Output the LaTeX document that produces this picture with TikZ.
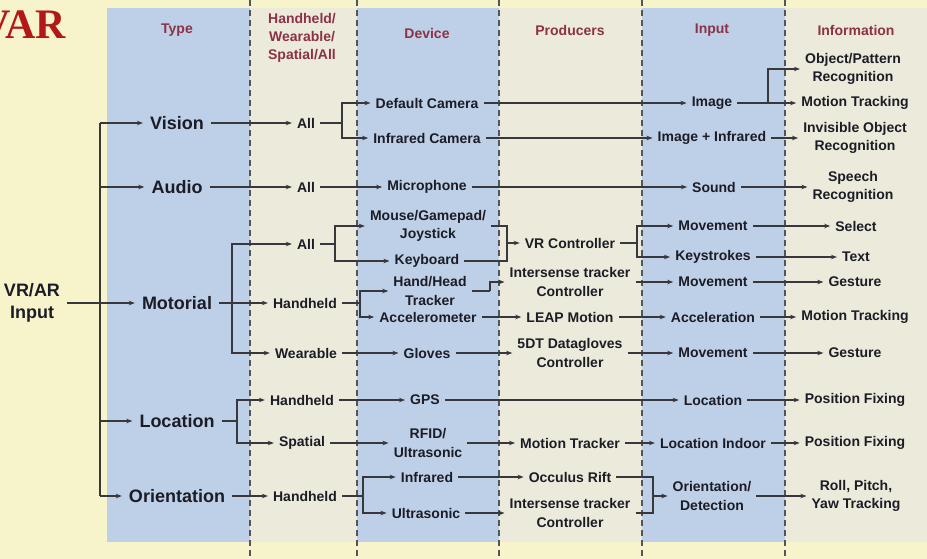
\documentclass[tikz,border=0pt]{standalone}
\usepackage{fontspec}
\setmainfont{Liberation Sans}
\newfontfamily\titlefont{Liberation Serif}
\usetikzlibrary{arrows.meta}
\definecolor{bgyel}{RGB}{247,243,203}
\definecolor{panel}{RGB}{236,234,219}
\definecolor{colblue}{RGB}{190,208,231}
\definecolor{hdrred}{RGB}{140,50,70}
\definecolor{titlered}{RGB}{178,24,24}
\definecolor{ink}{RGB}{28,28,38}
\definecolor{linec}{RGB}{55,55,60}
\begin{document}
\begin{tikzpicture}[x=1pt,y=-1pt,
  lbl/.style={font=\fontsize{14}{18.5}\selectfont\bfseries, text=ink, align=center, inner xsep=5pt, inner ysep=1pt},
  big/.style={font=\fontsize{18}{22}\selectfont\bfseries, text=ink, align=center, inner xsep=7pt, inner ysep=1pt},
  hdr/.style={font=\fontsize{14}{18}\selectfont\bfseries, text=hdrred, align=center},
  ln/.style={draw=linec, line width=1.3pt},
  arr/.style={ln, -{Stealth[length=6pt,width=4.5pt]}},
  sepline/.style={draw=linec!85, line width=1.6pt, dash pattern=on 6pt off 4pt}
]
\useasboundingbox (0,0) rectangle (927,559);
\fill[bgyel] (0,0) rectangle (927,559);
\fill[panel] (107,8) rectangle (927,542);
\fill[colblue] (107,8) rectangle (250,542);
\fill[colblue] (357,8) rectangle (499,542);
\fill[colblue] (642,8) rectangle (785,542);
\foreach \x in {250,357,499,642,785}
  \draw[sepline] (\x,0) -- (\x,559);

% title
\node[anchor=east, font=\titlefont\fontsize{42}{42}\selectfont\bfseries, text=titlered, inner sep=0] (title) at (66,25) {VAR};

% headers
\node[hdr] (hType) at (177,30) {Type};
\node[hdr] (hHand) at (302,38) {Handheld/\\Wearable/\\Spatial/All};
\node[hdr] (hDev) at (427,33) {Device};
\node[hdr] (hProd) at (570,30) {Producers};
\node[hdr] (hInp) at (712,30) {Input};
\node[hdr] (hInf) at (856,30) {Information};

% types
\node[big] (vrar) at (32,303) {VR/AR\\Input};
\node[big] (vis) at (177,123) {Vision};
\node[big] (aud) at (177,187) {Audio};
\node[big] (mot) at (177,303) {Motorial};
\node[big] (loc) at (177,421) {Location};
\node[big] (ori) at (177,496) {Orientation};

% handheld column
\node[lbl] (h1) at (306,123) {All};
\node[lbl] (h2) at (306,187) {All};
\node[lbl] (h3) at (306,244) {All};
\node[lbl] (h4) at (305,303) {Handheld};
\node[lbl] (h5) at (306,353) {Wearable};
\node[lbl] (h6) at (302,400) {Handheld};
\node[lbl] (h7) at (302,443) {Spatial};
\node[lbl] (h8) at (305,496) {Handheld};

% devices
\node[lbl] (d1) at (427,103) {Default Camera};
\node[lbl] (d2) at (427,138) {Infrared Camera};
\node[lbl] (d3) at (427,187) {Microphone};
\node[lbl] (d4) at (428,226) {Mouse/Gamepad/\\Joystick};
\node[lbl] (d5) at (427,261) {Keyboard};
\node[lbl] (d6) at (430,291) {Hand/Head\\Tracker};
\node[lbl] (d7) at (428,317) {Accelerometer};
\node[lbl] (d8) at (427,353) {Gloves};
\node[lbl] (d9) at (425,400) {GPS};
\node[lbl] (d10) at (428,443) {RFID/\\Ultrasonic};
\node[lbl] (d11) at (427,477) {Infrared};
\node[lbl] (d12) at (426,513) {Ultrasonic};

% producers
\node[lbl] (p1) at (570,243) {VR Controller};
\node[lbl] (p2) at (570,282) {Intersense tracker\\Controller};
\node[lbl] (p3) at (570,317) {LEAP Motion};
\node[lbl] (p4) at (570,353) {5DT Datagloves\\Controller};
\node[lbl] (p5) at (570,443) {Motion Tracker};
\node[lbl] (p6) at (570,477) {Occulus Rift};
\node[lbl] (p7) at (570,513) {Intersense tracker\\Controller};

% input
\node[lbl] (i1) at (712,103) {Image};
\node[lbl] (i2) at (712,138) {Image + Infrared};
\node[lbl] (i3) at (714,187) {Sound};
\node[lbl] (i4) at (713,226) {Movement};
\node[lbl] (i5) at (713,257) {Keystrokes};
\node[lbl] (i6) at (713,282) {Movement};
\node[lbl] (i7) at (713,317) {Acceleration};
\node[lbl] (i8) at (713,353) {Movement};
\node[lbl] (i9) at (713,400) {Location};
\node[lbl] (i10) at (713,443) {Location Indoor};
\node[lbl] (i11) at (712,496) {Orientation/\\Detection};

% information
\node[lbl] (f1) at (853,69) {Object/Pattern\\Recognition};
\node[lbl] (f2) at (855,103) {Motion Tracking};
\node[lbl] (f3) at (855,138) {Invisible Object\\Recognition};
\node[lbl] (f4) at (853,187) {Speech\\Recognition};
\node[lbl] (f5) at (856,226) {Select};
\node[lbl] (f6) at (856,257) {Text};
\node[lbl] (f7) at (855,282) {Gesture};
\node[lbl] (f8) at (855,317) {Motion Tracking};
\node[lbl] (f9) at (855,353) {Gesture};
\node[lbl] (f10) at (855,400) {Position Fixing};
\node[lbl] (f11) at (855,443) {Position Fixing};
\node[lbl] (f12) at (856,496) {Roll, Pitch,\\Yaw Tracking};

% branch coordinates
\coordinate (spT) at (100,123);
\coordinate (spB) at (100,496);
\coordinate (b1) at (342,123);
\coordinate (b2) at (768,103);
\coordinate (b3) at (232,303);
\coordinate (b4) at (335,244);
\coordinate (j1) at (507,243);
\coordinate (b5) at (637,243);
\coordinate (b6) at (360,303);
\coordinate (s1) at (490,291);
\coordinate (b7) at (237,421);
\coordinate (b8) at (363,496);
\coordinate (j2) at (653,496);

% spine
\draw[ln] (spT) -- (spB);
\draw[arr] (vis.west -| spT) -- (vis.west);
\draw[arr] (aud.west -| spT) -- (aud.west);
\draw[arr] (loc.west -| spT) -- (loc.west);
\draw[arr] (ori.west -| spT) -- (ori.west);
\draw[arr] (vrar.east) -- (mot.west);

% vision
\draw[arr] (vis.east) -- (h1.west);
\draw[ln] (h1.east) -- (b1);
\draw[arr] (b1) |- (d1.west);
\draw[arr] (b1) |- (d2.west);
\draw[arr] (d1.east) -- (i1.west);
\draw[arr] (d2.east) -- (i2.west);
\draw[arr] (i1.east) -- (f2.west);
\draw[arr] (b2) |- (f1.west);
\draw[arr] (i2.east) -- (f3.west);

% audio
\draw[arr] (aud.east) -- (h2.west);
\draw[arr] (h2.east) -- (d3.west);
\draw[arr] (d3.east) -- (i3.west);
\draw[arr] (i3.east) -- (f4.west);

% motorial
\draw[ln] (mot.east) -- (b3);
\draw[arr] (b3) |- (h3.west);
\draw[arr] (b3) -- (h4.west);
\draw[arr] (b3) |- (h5.west);
\draw[ln] (h3.east) -- (b4);
\draw[arr] (b4) |- (d4.west);
\draw[arr] (b4) |- (d5.west);
\draw[ln] (d4.east) -| (j1);
\draw[ln] (d5.east) -| (j1);
\draw[arr] (j1) -- (p1.west);
\draw[ln] (p1.east) -- (b5);
\draw[arr] (b5) |- (i4.west);
\draw[arr] (b5) |- (i5.west);
\draw[arr] (i4.east) -- (f5.west);
\draw[arr] (i5.east) -- (f6.west);
\draw[ln] (h4.east) -- (b6);
\draw[arr] (b6) |- (d6.west);
\draw[arr] (b6) |- (d7.west);
\draw[ln] (d6.east |- s1) -- (s1);
\draw[arr] (s1) |- (p2.west);
\draw[arr] (p2.east) -- (i6.west);
\draw[arr] (i6.east) -- (f7.west);
\draw[arr] (d7.east) -- (p3.west);
\draw[arr] (p3.east) -- (i7.west);
\draw[arr] (i7.east) -- (f8.west);
\draw[arr] (h5.east) -- (d8.west);
\draw[arr] (d8.east) -- (p4.west);
\draw[arr] (p4.east) -- (i8.west);
\draw[arr] (i8.east) -- (f9.west);

% location
\draw[ln] (loc.east) -- (b7);
\draw[arr] (b7) |- (h6.west);
\draw[arr] (b7) |- (h7.west);
\draw[arr] (h6.east) -- (d9.west);
\draw[arr] (d9.east) -- (i9.west);
\draw[arr] (i9.east) -- (f10.west);
\draw[arr] (h7.east) -- (d10.west);
\draw[arr] (d10.east) -- (p5.west);
\draw[arr] (p5.east) -- (i10.west);
\draw[arr] (i10.east) -- (f11.west);

% orientation
\draw[arr] (ori.east) -- (h8.west);
\draw[ln] (h8.east) -- (b8);
\draw[arr] (b8) |- (d11.west);
\draw[arr] (b8) |- (d12.west);
\draw[arr] (d11.east) -- (p6.west);
\draw[arr] (d12.east) -- (p7.west);
\draw[ln] (p6.east) -| (j2);
\draw[ln] (p7.east) -| (j2);
\draw[arr] (j2) -- (i11.west);
\draw[arr] (i11.east) -- (f12.west);
\end{tikzpicture}
\end{document}
